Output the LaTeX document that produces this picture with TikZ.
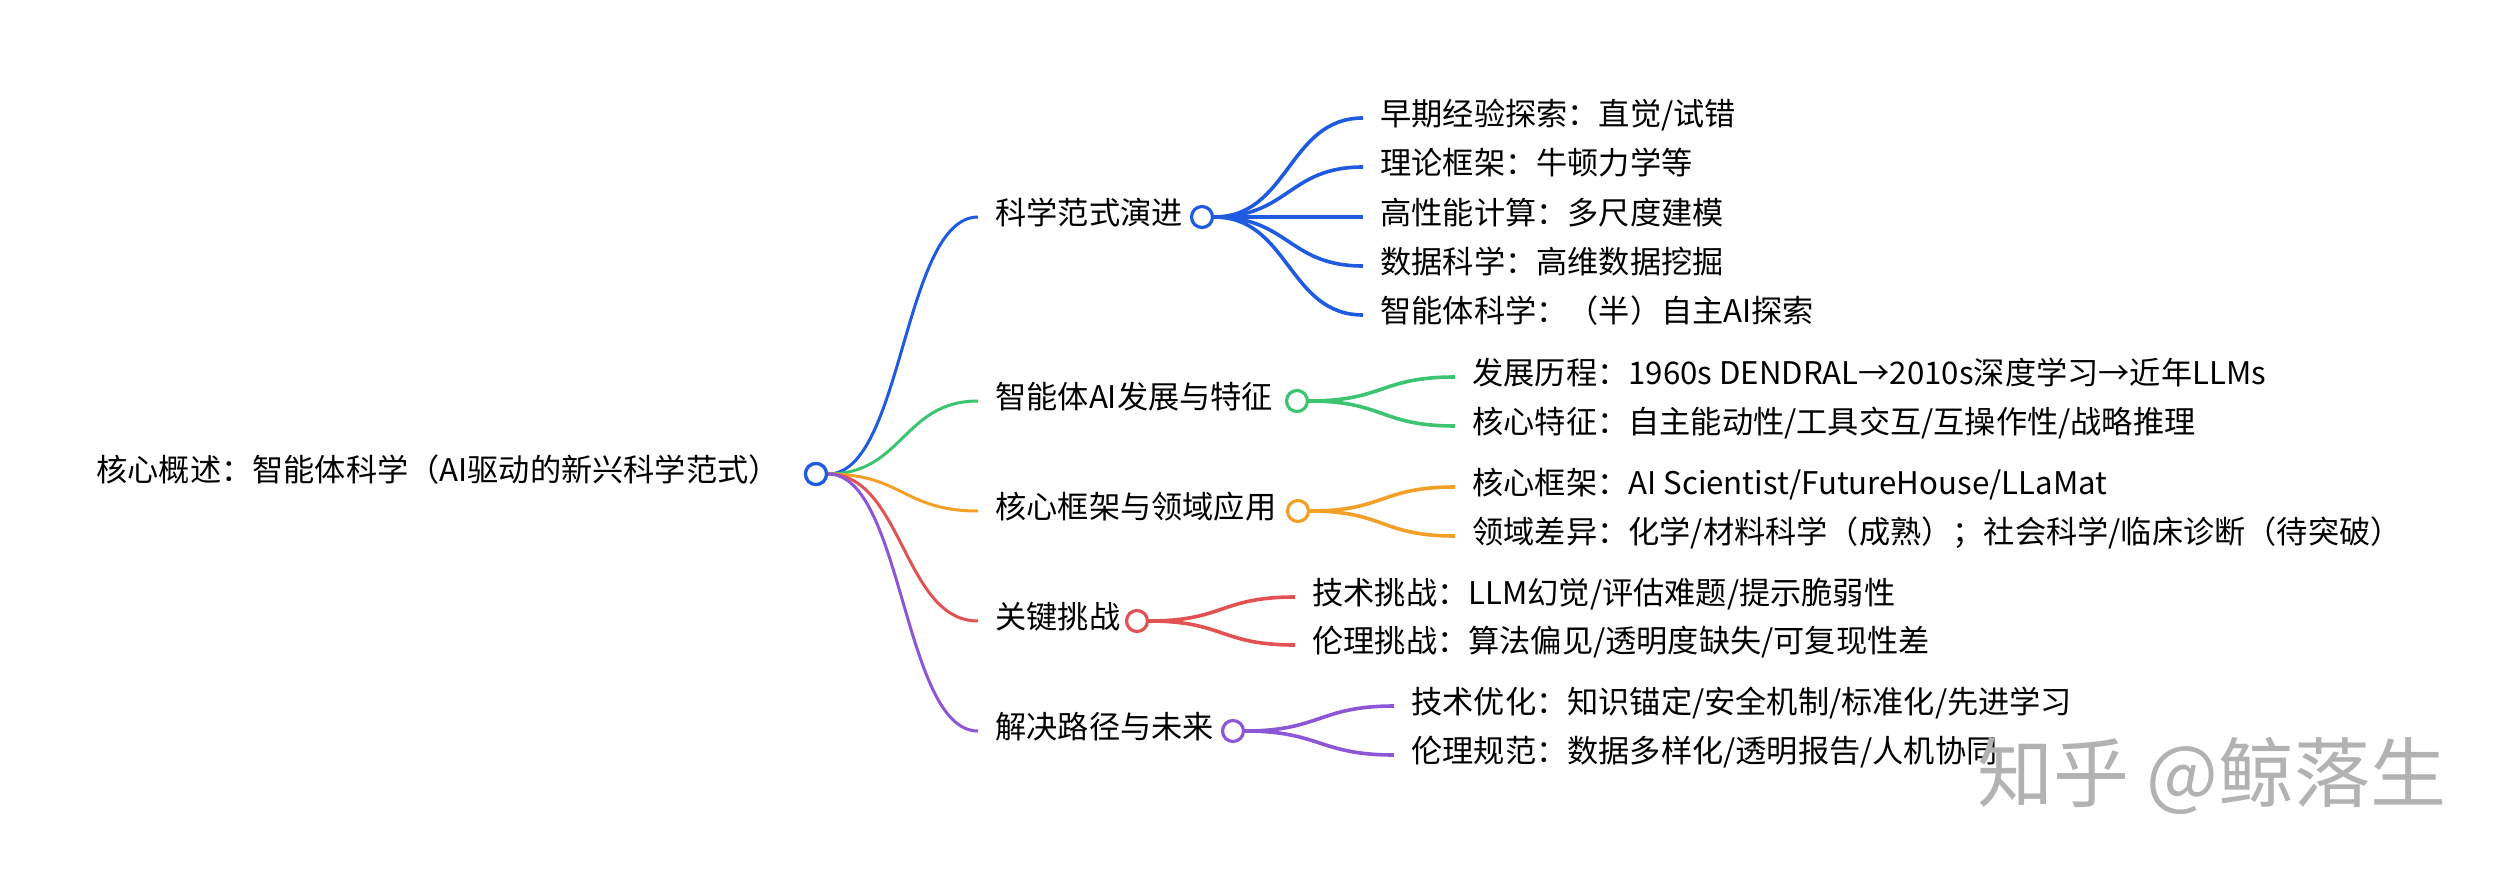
\documentclass[tikz,border=0pt]{standalone}
\usepackage{fontspec}
\setmainfont{Noto Sans CJK SC}
\usepackage{tikz}
\usetikzlibrary{calc}
\definecolor{MapBlue}{RGB}{31,91,224}
\definecolor{MapGreen}{RGB}{60,196,112}
\definecolor{MapOrange}{RGB}{242,160,40}
\definecolor{MapRed}{RGB}{226,82,82}
\definecolor{MapPurple}{RGB}{140,86,214}
\definecolor{MapMark}{RGB}{178,178,178}
\tikzset{
  txt/.style={anchor=west,inner sep=0pt,text height=0.88em,text depth=0.12em,text=black},
  dot/.style={circle,draw=#1,fill=white,line width=1.6pt,minimum size=10.5pt,inner sep=0pt},
  link/.style={#1,line width=1.5pt,to path={.. controls +(75,0) and +(-75,0) .. (\tikztotarget)}},
  sublink/.style={link=#1,line width=1.8pt},
}

\begin{document}
\begin{tikzpicture}[x=0.5pt,y=-0.5pt,font=\fontsize{15.6pt}{18pt}\selectfont]
        \useasboundingbox (0,0) rectangle (2510,872);
        % root
        \node[txt] (root) at (96,474) {核心概述：智能体科学（AI驱动的新兴科学范式）};
        \node[dot=MapBlue] (rootc) at (816,474) {};
        % first level
        \node[txt] (sci) at (995,217) {科学范式演进};
        \node[txt] (agent) at (995,401) {智能体AI发展与特征};
        \node[txt] (frame) at (995,511) {核心框架与领域应用};
        \node[txt] (chal) at (995,621) {关键挑战};
        \node[txt] (way) at (995,731) {解决路径与未来};
        \node[dot=MapBlue] (scic) at (1202,217) {};
        \node[dot=MapGreen] (agentc) at (1297,401) {};
        \node[dot=MapOrange] (framec) at (1298,511) {};
        \node[dot=MapRed] (chalc) at (1137,621) {};
        \node[dot=MapPurple] (wayc) at (1233,731) {};
        % second level
        \node[txt] (sci1) at (1380,118) {早期经验探索：直觉/试错};
        \node[txt] (sci2) at (1380,167) {理论框架：牛顿力学等};
        \node[txt] (sci3) at (1380,217) {高性能计算：多尺度建模};
        \node[txt] (sci4) at (1380,266) {数据科学：高维数据挖掘};
        \node[txt] (sci5) at (1380,315) {智能体科学：（半）自主AI探索};
        \node[txt] (agent1) at (1472,377) {发展历程：1960s DENDRAL→2010s深度学习→近年LLMs};
        \node[txt] (agent2) at (1472,426) {核心特征：自主能动性/工具交互/互操作性/战略推理};
        \node[txt] (frame1) at (1472,487) {核心框架：AI Scientist/FutureHouse/LLaMat};
        \node[txt] (frame2) at (1472,536) {领域差异：化学/材料科学（成熟）；社会科学/临床诊断（待突破）};
        \node[txt] (chal1) at (1312,597) {技术挑战：LLM幻觉/评估难题/提示脆弱性};
        \node[txt] (chal2) at (1312,645) {伦理挑战：算法偏见/透明度缺失/可复现性差};
        \node[txt] (way1) at (1411,706) {技术优化：知识锚定/安全机制/标准化/先进学习};
        \node[txt] (way2) at (1411,755) {伦理规范：数据多样化/透明报告/人机协同};
        % links
        \draw[link=MapBlue] (rootc.east) to ([xshift=-8.5pt]sci.west);
        \draw[link=MapGreen] (rootc.east) to ([xshift=-8.5pt]agent.west);
        \draw[link=MapOrange] (rootc.east) to ([xshift=-8.5pt]frame.west);
        \draw[link=MapRed] (rootc.east) to ([xshift=-8.5pt]chal.west);
        \draw[link=MapPurple] (rootc.east) to ([xshift=-8.5pt]way.west);
        \foreach \k in {1,...,5} \draw[sublink=MapBlue] (scic.east) to ([xshift=-8.5pt]sci\k.west);
        \foreach \k in {1,2} {
          \draw[sublink=MapGreen] (agentc.east) to ([xshift=-8.5pt]agent\k.west);
          \draw[sublink=MapOrange] (framec.east) to ([xshift=-8.5pt]frame\k.west);
          \draw[sublink=MapRed] (chalc.east) to ([xshift=-8.5pt]chal\k.west);
          \draw[sublink=MapPurple] (wayc.east) to ([xshift=-8.5pt]way\k.west);
        }
        \node[dot=MapBlue] at (rootc) {};
        % watermark
        \node[font=\fontsize{38pt}{42pt}\selectfont,text=MapMark] (mark) at (2212,776) {知乎 @鲸落生};
      \end{tikzpicture}
\end{document}
